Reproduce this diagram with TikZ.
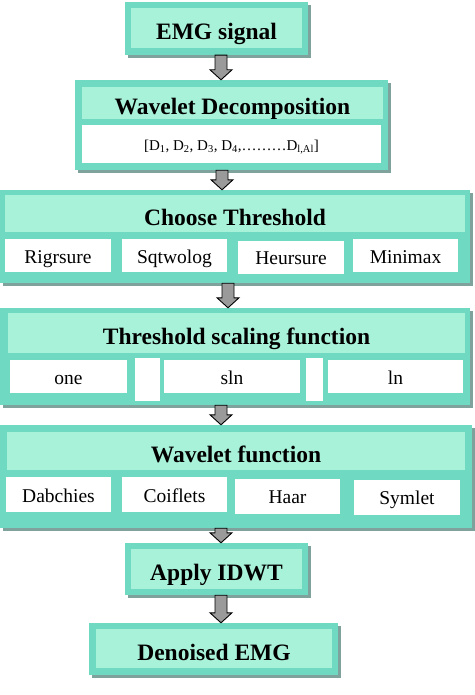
\documentclass[tikz,border=0pt]{standalone}
\usepackage{fontspec}
\setmainfont{Liberation Serif}
\usetikzlibrary{calc,shadows}
\definecolor{tealout}{HTML}{6FD9C2}
\definecolor{teallight}{HTML}{A9F2DA}
\definecolor{shadowc}{HTML}{7FA39C}
\definecolor{arrowc}{HTML}{9A9A9A}
\newcommand\titlef{\fontsize{23.5}{26}\selectfont\bfseries}
\newcommand\labf{\fontsize{19.5}{22}\selectfont}
\newcommand\fatarrow[3]{%
  \filldraw[fatarr] let \p1=(#2.south), \p2=(#3.north) in
    (#1pt-6pt,\y1) -- (#1pt+6pt,\y1) -- (#1pt+6pt,\y2+10pt) --
    (#1pt+11pt,\y2+10pt) -- (#1pt,\y2) -- (#1pt-11pt,\y2+10pt) --
    (#1pt-6pt,\y2+10pt) -- cycle;}
\tikzset{
  outerbox/.style={rectangle, fill=tealout, draw=none, inner sep=0pt,
    general shadow={shadow xshift=3pt, shadow yshift=-3pt, fill=shadowc}},
  lightbox/.style={rectangle, fill=teallight, draw=none, inner sep=0pt, font=\titlef,
    text height=23pt, text depth=0pt},
  whitebox/.style={rectangle, fill=white, draw=none, inner sep=0pt, font=\labf,
    text height=15.5pt, text depth=0pt},
  fatarr/.style={draw=black, fill=arrowc, line width=0.9pt, line join=miter}
}
\begin{document}
\begin{tikzpicture}[x=1pt,y=-1pt]
\useasboundingbox[fill=white] (0,0) rectangle (474,695);

% EMG signal
\node[outerbox, minimum width=183pt, minimum height=53pt] (emgO) at (216.5,28.5) {};
\node[lightbox, minimum width=171pt, minimum height=40pt] (emg) at (216.5,28) {EMG signal};

% Wavelet decomposition
\node[outerbox, minimum width=313pt, minimum height=90pt] (wdO) at (231.5,125) {};
\node[lightbox, minimum width=301pt, minimum height=32pt] (wd) at (232.5,103) {Wavelet Decomposition};
\node[whitebox, minimum width=299pt, minimum height=38pt, font=\fontsize{15}{18}\selectfont,
  text height=12pt] (wdl) at (231.5,144)
  {[D\textsubscript{1}, D\textsubscript{2}, D\textsubscript{3}, D\textsubscript{4},………D\textsubscript{l,Al}]};

% Choose threshold
\node[outerbox, minimum width=470pt, minimum height=93pt] (ctO) at (235,236.5) {};
\node[lightbox, minimum width=460pt, minimum height=37pt] (ct) at (235,213.5) {Choose Threshold};
\node[whitebox, minimum width=106pt, minimum height=33pt] (rig) at (58,255.5) {Rigrsure};
\node[whitebox, minimum width=105pt, minimum height=33pt] (sqt) at (174.5,255.5) {Sqtwolog};
\node[whitebox, minimum width=106pt, minimum height=33pt] (heu) at (291,257) {Heursure};
\node[whitebox, minimum width=105pt, minimum height=33pt] (mini) at (405.5,255.5) {Minimax};

% Threshold scaling function
\node[outerbox, minimum width=470pt, minimum height=97pt] (tsO) at (235,356.5) {};
\fill[white] (135,358) rectangle (160,401);
\fill[white] (306,358) rectangle (323,401);
\node[lightbox, minimum width=457pt, minimum height=40pt] (ts) at (236.5,333) {Threshold scaling function};
\node[whitebox, minimum width=117pt, minimum height=33pt] (one) at (68.5,376.5) {one};
\node[whitebox, minimum width=136pt, minimum height=33pt] (sln) at (232,376.5) {sln};
\node[whitebox, minimum width=135pt, minimum height=33pt] (ln) at (395.5,376.5) {ln};

% Wavelet function
\node[outerbox, minimum width=472pt, minimum height=103pt] (wfO) at (236,476.5) {};
\node[lightbox, minimum width=458pt, minimum height=38pt] (wf) at (236,451) {Wavelet function};
\node[whitebox, minimum width=105pt, minimum height=35pt] (dab) at (58.5,494.5) {Dabchies};
\node[whitebox, minimum width=105pt, minimum height=35pt] (coi) at (174.5,494.5) {Coiflets};
\node[whitebox, minimum width=105pt, minimum height=35pt] (haar) at (287.5,496) {Haar};
\node[whitebox, minimum width=106pt, minimum height=35pt] (sym) at (407,497) {Symlet};

% Apply IDWT
\node[outerbox, minimum width=183pt, minimum height=52pt] (idO) at (216.5,569) {};
\node[lightbox, minimum width=171pt, minimum height=40pt] (id) at (216.5,569) {Apply IDWT};

% Denoised EMG
\node[outerbox, minimum width=249pt, minimum height=52pt] (deO) at (213.5,649) {};
\node[lightbox, minimum width=236pt, minimum height=39pt] (de) at (214,648.5) {Denoised EMG};

% arrows
\fatarrow{221}{emgO}{wdO}
\fatarrow{222}{wdO}{ctO}
\fatarrow{228}{ctO}{tsO}
\fatarrow{221}{tsO}{wfO}
\fatarrow{221}{wfO}{idO}
\fatarrow{221}{idO}{deO}
\end{tikzpicture}
\end{document}
